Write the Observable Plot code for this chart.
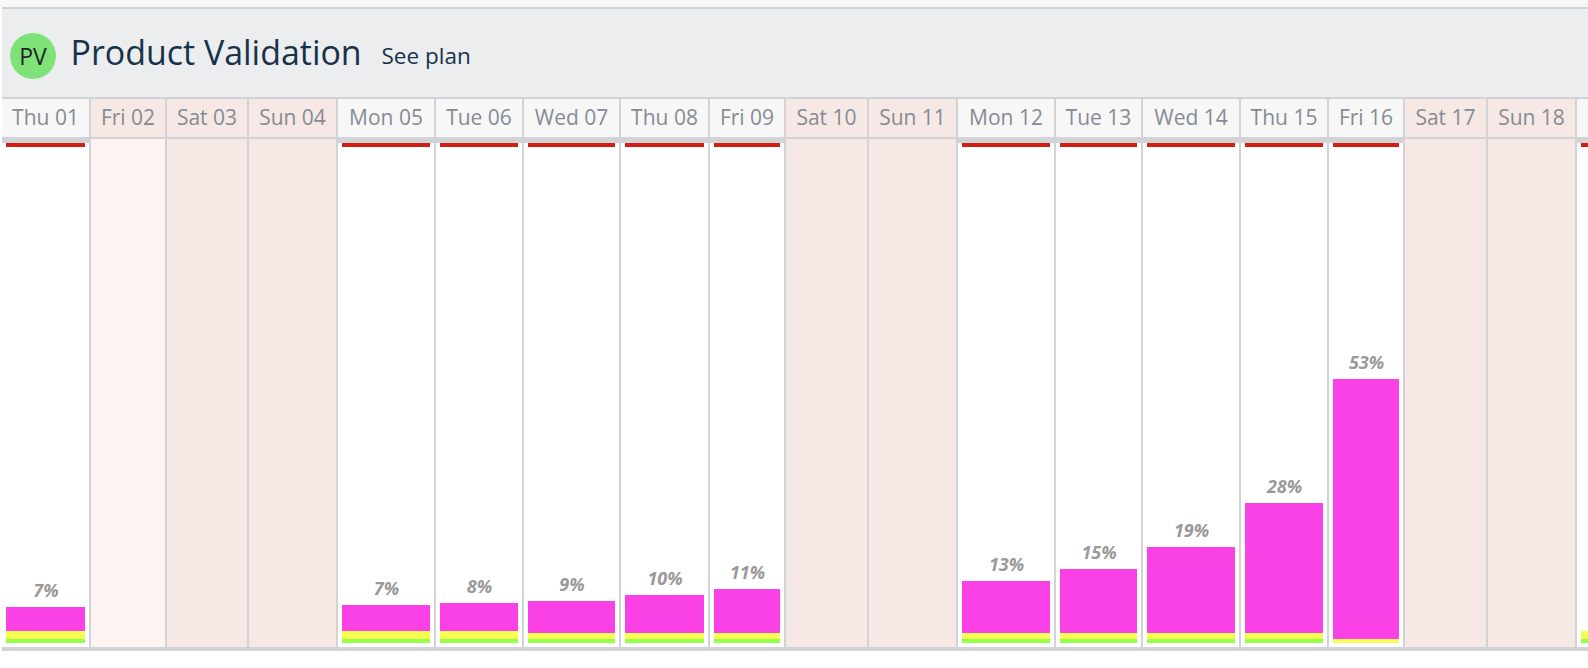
<!DOCTYPE html>
<html><head><meta charset="utf-8">
<script src="https://cdn.jsdelivr.net/npm/d3@7"></script>
<script src="https://cdn.jsdelivr.net/npm/@observablehq/plot@0.6"></script>
<style>
html,body{margin:0;padding:0;background:#fff;overflow:hidden;width:1588px;height:668px}
#top{position:absolute;left:0;top:0;width:1588px;height:7px;background:#f7f7f7}
#head{position:absolute;left:2px;top:7px;width:1586px;height:90px;box-sizing:border-box;background:#ecedef;border-top:2px solid #d2d3d7;font-family:"Open Sans",sans-serif;color:#17324a}
#badge{position:absolute;left:8px;top:24px;width:46px;height:46px;border-radius:50%;background:#7fe278;color:#22222a;font-size:23px;line-height:46px;text-align:center}
#title{position:absolute;left:68.5px;top:21px;font-size:33.95px;line-height:44px;white-space:nowrap}
#plan{position:absolute;left:379.5px;top:32.5px;font-size:22.5px;line-height:28px;white-space:nowrap}
#chart{position:absolute;left:0;top:97px}
svg{display:block}
</style></head><body>
<div id="top"></div>
<div id="head"><div id="badge">PV</div><div id="title">Product Validation</div><div id="plan">See plan</div></div>
<div id="chart"></div>
<script>
const dayLabels=["Thu 01","Fri 02","Sat 03","Sun 04","Mon 05","Tue 06","Wed 07","Thu 08","Fri 09","Sat 10","Sun 11","Mon 12","Tue 13","Wed 14","Thu 15","Fri 16","Sat 17","Sun 18",""];
const dayKinds=["work","holiday","off","off","work","work","work","work","work","off","off","work","work","work","work","work","off","off","work"];
const greenValues=[0.8,0,0,0,0.8,0.8,0.8,0.8,0.8,0,0,0.8,0.8,0.8,0.8,0,0,0,0.8];
const yellowValues=[1.6,0,0,0,1.6,1.6,1.2,1.2,1.2,0,0,1.2,1.2,1.2,1.2,0.8,0,0,1.6];
const pinkValues=[4.8,0,0,0,5.2,5.6,6.4,7.6,8.8,0,0,10.4,12.8,17.2,26,52,0,0,0];
const percentLabels=["7%",null,null,null,"7%","8%","9%","10%","11%",null,null,"13%","15%","19%","28%","53%",null,null,null];
const capacityTop=100, capacityBottom=99.2;

const columnEdges=[0,89,165,247,336,434,522,619,708,784,867,956,1054,1141,1239,1327,1403,1486,1575,1680];
const days=dayLabels.map((label,i)=>({i,label,kind:dayKinds[i],green:greenValues[i],yellow:yellowValues[i],pink:pinkValues[i],pct:percentLabels[i]}));
const segments=days.flatMap(d=>[["green",d.green],["yellow",d.yellow],["pink",d.pink]].map(([k,v])=>({i:d.i,k,v}))).filter(s=>s.v>0);
const work=days.filter(d=>d.kind==="work");
const barDays=days.filter(d=>d.pct);
const frame=[{x1:0,x2:19}];
const grey="#d2d3d7";
const bodyFill=k=>k==="work"?"#ffffff":k==="holiday"?"#fdf3f0":"#f6e8e4";
const headFill=k=>k==="work"?"#f7f7f7":"#f6e8e4";
const font="'Open Sans',sans-serif";
const plot=Plot.plot({
  width:1588,height:571,margin:0,
  style:{background:"transparent",overflow:"hidden"},
  x:{type:"linear",domain:columnEdges.map((_,i)=>i),range:columnEdges,axis:null},
  y:{type:"linear",domain:[0,100],range:[546,46],axis:null},
  marks:[
    // column body and header cell backgrounds
    Plot.rect(days,{x1:"i",x2:d=>d.i+1,insetLeft:2,y1:-0.8,y2:100.8,fill:d=>bodyFill(d.kind)}),
    Plot.rect(days,{x1:"i",x2:d=>d.i+1,insetLeft:2,y1:101.2,y2:108.8,fill:d=>headFill(d.kind)}),
    // horizontal frame lines
    Plot.rect(frame,{x1:"x1",x2:"x2",insetLeft:2,y1:108.8,y2:109.2,fill:grey}),
    Plot.rect(frame,{x1:"x1",x2:"x2",insetLeft:2,y1:100.8,y2:101.2,fill:grey}),
    Plot.rect(frame,{x1:"x1",x2:"x2",insetLeft:2,y1:-1.6,y2:-0.8,fill:grey}),
    Plot.rect(work,{x1:"i",x2:d=>d.i+1,insetLeft:2,y1:100,y2:100.8,fill:grey}),
    // column separators
    Plot.rect(days.slice(1),{x1:"i",x2:d=>d.i,insetLeft:0,insetRight:-2,y1:-0.8,y2:108.8,fill:grey}),
    // stacked load bars
    Plot.rectY(segments,Plot.stackY({order:["green","yellow","pink"],x1:"i",x2:d=>d.i+1,y:"v",z:"k",insetLeft:6,insetRight:4,fill:d=>({green:"#96ff4b",yellow:"#f5ff50",pink:"#fa41e6"})[d.k]})),
    // capacity marks
    Plot.rect(work,{x1:"i",x2:d=>d.i+1,insetLeft:6,insetRight:4,y1:capacityBottom,y2:capacityTop,fill:"#d21e14"}),
    Plot.text(barDays,{x:d=>d.i+0.5,y:d=>d.green+d.yellow+d.pink,dy:-16,dx:1,text:"pct",fill:"#999999",fontSize:18,fontStyle:"italic",fontWeight:"bold",fontFamily:font}),
    Plot.text(days.filter(d=>d.label),{x:d=>d.i+0.5,y:105,dx:0.5,text:"label",fill:"#868b94",fontSize:21,fontFamily:font})
  ]
});
document.getElementById("chart").append(plot);
</script></body></html>
